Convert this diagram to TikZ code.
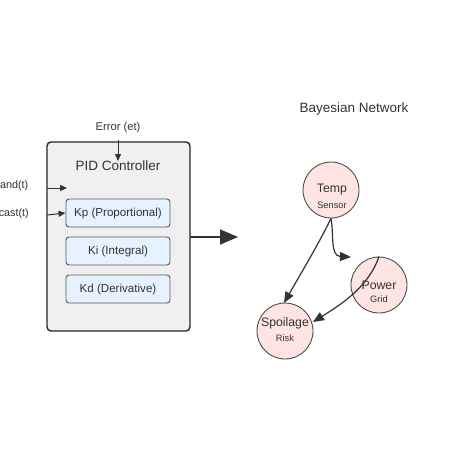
\documentclass[tikz,border=0pt]{standalone}
\usepackage{fontspec}
\setmainfont{Liberation Sans}
\usetikzlibrary{arrows.meta}
\definecolor{txt}{HTML}{333333}
\definecolor{edge}{HTML}{333333}
\definecolor{outerfill}{HTML}{F0F0F0}
\definecolor{innerfill}{HTML}{E6F2FF}
\definecolor{bnfill}{HTML}{FFE4E4}
\tikzset{
  px/.style={x=1pt,y=-1pt},
  outerbox/.style={draw=black!85,line width=1.4pt,rounded corners=4pt,fill=outerfill,minimum width=143pt,minimum height=189pt,inner sep=0pt},
  innerbox/.style={draw=black!65,line width=0.9pt,rounded corners=3pt,fill=innerfill,minimum width=104pt,minimum height=28pt,inner sep=0pt,text=txt,font=\fontsize{11.6}{13}\selectfont},
  bnnode/.style={circle,draw=black!70,line width=0.9pt,fill=bnfill,minimum size=56pt,inner sep=0pt},
  mainlbl/.style={text=txt,font=\fontsize{12.3}{13}\selectfont,inner sep=0pt},
  sublbl/.style={text=txt,font=\fontsize{9.3}{10}\selectfont,inner sep=0pt},
  lbl/.style={text=txt,font=\fontsize{11.2}{12}\selectfont,inner sep=0pt},
  sidelbl/.style={text=txt,font=\fontsize{10.8}{12}\selectfont,inner sep=0pt},
  ttl/.style={text=txt,font=\fontsize{13.5}{15}\selectfont,inner sep=0pt},
  arr/.style={draw=edge,line width=1pt,-{Triangle[length=7pt,width=6pt]}},
  bnarr/.style={draw=edge,line width=1.2pt,-{Triangle[length=11pt,width=9pt]}}
}
\begin{document}
\begin{tikzpicture}[px]
\useasboundingbox (0,0) rectangle (474,474);
% PID block
\node[outerbox] (pid) at (118.5,236.5) {};
\node[ttl] (pidt) at (118,166) {PID Controller};
\node[lbl] (err) at (118,128) {Error (et)};
\coordinate (errs) at (118,140);
\coordinate (erre) at (118,161);
\draw[arr] (errs) -- (erre);
\node[innerbox] (kp) at (118,213) {Kp (Proportional)};
\node[innerbox] (ki) at (118,251) {Ki (Integral)};
\node[innerbox] (kd) at (118,289) {Kd (Derivative)};
\node[sidelbl,anchor=east] (dem) at (28.5,186) {and(t)};
\node[sidelbl,anchor=east] (fc) at (29,214) {cast(t)};
\coordinate (dems) at (47,188);
\coordinate (deme) at (67,188);
\coordinate (fcs) at (47,215);
\draw[arr] (dems) -- (deme);
\draw[arr] (fcs) -- (kp.west);
\coordinate (outs) at (190,237);
\coordinate (oute) at (238,237);
\draw[draw=edge,line width=1.6pt,-{Triangle[length=18pt,width=15pt]}] (outs) -- (oute);
% Bayesian network
\node[ttl] (bnt) at (354,109) {Bayesian Network};
\node[bnnode] (temp) at (331,190) {};
\node[mainlbl] (tempa) at (332,190) {Temp};
\node[sublbl] (tempb) at (332,205) {Sensor};
\node[bnnode] (power) at (379,285) {};
\node[mainlbl] (powera) at (379,285) {Power};
\node[sublbl] (powerb) at (379,299) {Grid};
\node[bnnode] (spoil) at (285,331) {};
\node[mainlbl] (spoila) at (285,323) {Spoilage};
\node[sublbl] (spoilb) at (285,338) {Risk};
\coordinate (dang) at (351,257);
\draw[bnarr] (temp.south) .. controls (318,245) and (300,275) .. (284,303);
\draw[bnarr] (temp.south) .. controls (334,234) and (330,256) .. (dang);
\draw[bnarr] (power.north) .. controls (368,288) and (340,305) .. (313,322);
\end{tikzpicture}
\end{document}
